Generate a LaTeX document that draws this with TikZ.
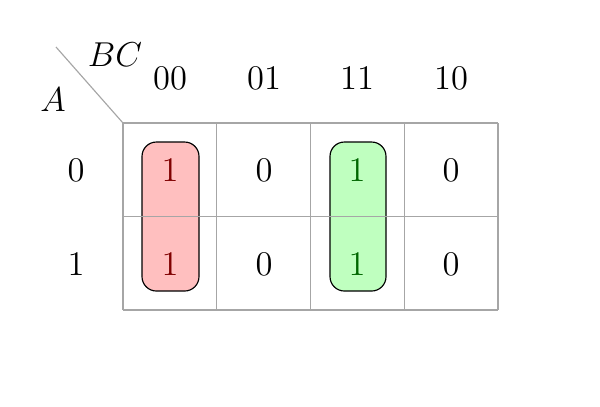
\documentclass[tikz,border=0pt]{standalone}
\begin{document}
\begin{tikzpicture}[x=0.0122cm,y=-0.0122cm,
  grp/.style={draw=black,rounded corners=5pt},
  lbl/.style={inner sep=0pt,font=\large}]
\useasboundingbox (0,0) rectangle (600,406);
\node[grp,fill=red!25,minimum width=57*0.0122cm,minimum height=149*0.0122cm] (g1) at (170.5,216.5) {};
\node[grp,fill=green!25,minimum width=56*0.0122cm,minimum height=149*0.0122cm] (g2) at (358,216.5) {};
\foreach \x in {123,216.75,310.5,404.25,498} \draw[gray!70] (\x,123) -- (\x,310);
\foreach \y in {123,216.5,310} \draw[gray!70] (123,\y) -- (498,\y);
\coordinate (d0) at (56,47);
\coordinate (d1) at (123,123);
\draw[gray!70] (d0) -- (d1);
\node[lbl] (bc) at (115,55) {$BC$};
\node[lbl] (a) at (53,100) {$A$};
\foreach \t/\x in {00/170,01/264,11/357,10/451} \node[lbl] (c\t) at (\x,78) {\t};
\node[lbl] (r0) at (76,170) {0};
\node[lbl] (r1) at (76,264) {1};
\node[lbl,text=red!50!black] (m00) at (170,170) {1};
\node[lbl] (m01) at (264,170) {0};
\node[lbl,text=green!40!black] (m03) at (357,170) {1};
\node[lbl] (m02) at (451,170) {0};
\node[lbl,text=red!50!black] (m10) at (170,264) {1};
\node[lbl] (m11) at (264,264) {0};
\node[lbl,text=green!40!black] (m13) at (357,264) {1};
\node[lbl] (m12) at (451,264) {0};
\end{tikzpicture}
\end{document}
